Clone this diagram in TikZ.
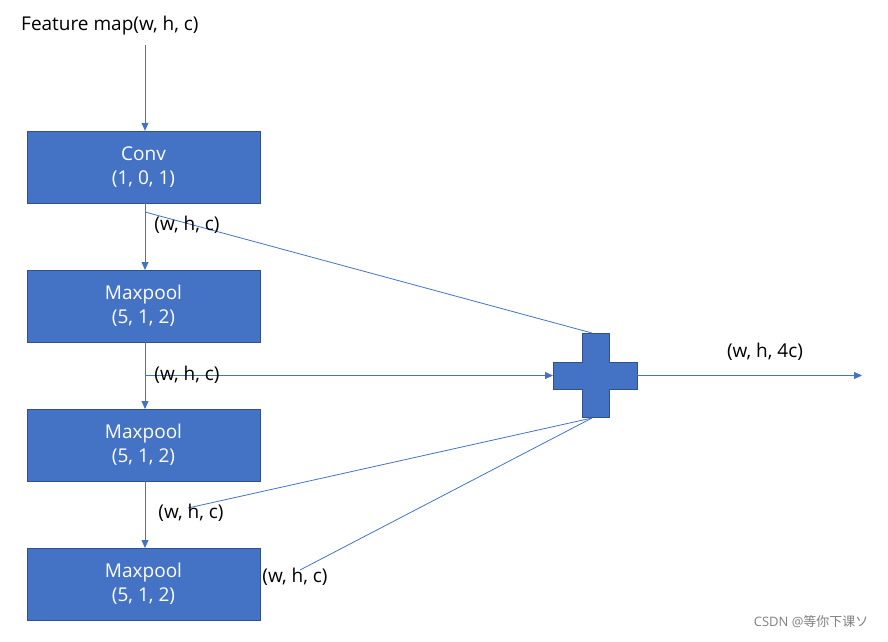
\documentclass[tikz,border=0pt]{standalone}
\usepackage{fontspec}
\setmainfont{Open Sans}
\newfontfamily\cjk{Noto Sans CJK SC}
\usetikzlibrary{arrows.meta}
\definecolor{blu}{HTML}{4472C4}
\definecolor{bdr}{HTML}{2F528F}
\begin{document}
\begin{tikzpicture}[x=1pt,y=-1pt,
 box/.style={draw=bdr,fill=blu,minimum width=233pt,minimum height=72pt,inner sep=0,text=white,align=center,font=\fontsize{19}{24}\selectfont},
 lab/.style={font=\fontsize{19}{22}\selectfont,inner sep=1pt},
 ar/.style={blu,line width=0.8pt,-{Triangle[length=8pt,width=7pt]}}]
\useasboundingbox (0,0) rectangle (888,641);
\node[lab,anchor=west] (in) at (20,26) {Feature map(w, h, c)};
\node[box] (b1) at (143.5,167) {Conv\\(1, 0, 1)};
\node[box] (b2) at (143.5,306) {Maxpool\\(5, 1, 2)};
\node[box] (b3) at (143.5,445) {Maxpool\\(5, 1, 2)};
\node[box] (b4) at (143.5,584) {Maxpool\\(5, 1, 2)};
\draw[draw=bdr,fill=blu] (582,333) -- (609,333) -- (609,362) -- (637,362) -- (637,389) -- (609,389) -- (609,417) -- (582,417) -- (582,389) -- (553,389) -- (553,362) -- (582,362) -- cycle;
\coordinate (ptop) at (592,333);
\coordinate (pbot) at (592,418);
\coordinate (pl) at (553,375.5);
\coordinate (pr) at (637,375.5);
\coordinate (out) at (862,375.5);
\draw[ar] (145,45) -- (b1.north -| 145,0);
\draw[ar] (145,203) -- (145,270);
\draw[ar] (145,342) -- (145,409);
\draw[ar] (145,481) -- (145,548);
\draw[blu,line width=0.8pt] (145,212) -- (ptop);
\draw[ar] (145,375.5) -- (pl);
\draw[blu,line width=0.8pt] (188,508) -- (pbot);
\draw[blu,line width=0.8pt] (300,570) -- (pbot);
\draw[ar] (pr) -- (out);
\node[lab] (l1) at (187,225) {(w, h, c)};
\node[lab] (l2) at (187,375) {(w, h, c)};
\node[lab] (l3) at (191,513) {(w, h, c)};
\node[lab] (l4) at (295,577) {(w, h, c)};
\node[lab] (l5) at (765,352) {(w, h, 4c)};
\node[anchor=east,text=gray,font=\fontsize{13}{15}\selectfont] (wm) at (872,622) {CSDN @{\cjk 等你下课ソ}};
\end{tikzpicture}
\end{document}
